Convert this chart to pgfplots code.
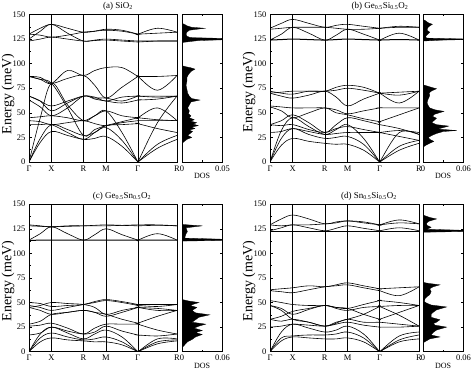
\documentclass[border=0pt]{standalone}
\usepackage{fontspec}
\setmainfont{Liberation Serif}
\usepackage{pgfplots}
\pgfplotsset{compat=1.18}
\pgfplotsset{
  base/.style={scale only axis, ymin=0, ymax=150, ytick={0,25,...,150},
    axis line style={line width=0.6pt},
    tick style={black, line width=0.5pt},
    major tick length=3pt, minor tick length=1.5pt,
    tick label style={font=\fontsize{8.5}{10}\selectfont},
    /pgf/number format/assume math mode=true},
  disp/.style={base, width=148pt, height=147.5pt, xmin=0, xmax=3.28,
    xtick={0,0.5,1.207,1.707,2.414,3.28}, xticklabels={Γ,X,R,M,Γ,R},
    xmajorgrids, major x grid style={black, line width=0.6pt},
    xtick style={draw=none},
    ytick pos=left, minor y tick num=1,
    unbounded coords=discard},
  band/.style={black, solid, line width=0.6pt, smooth, tension=0.6, mark=none},
  flat/.style={band, line width=1pt},
  dos/.style={base, height=147.5pt, xmin=0, yticklabels={}, ytick pos=right,
    xtick pos=both, minor x tick num=1, scaled x ticks=false},
  dosfill/.style={black, fill=black, line width=0.3pt, mark=none, sharp plot},
}
\begin{document}
\begin{tikzpicture}
\useasboundingbox (0,0) rectangle (474pt,372pt);
% ---------------- (a) SiO2 ----------------
\begin{axis}[disp, at={(29pt,210pt)}, anchor=south west]
\addplot[band] coordinates {(0,123)(.25,125)(.5,127)(.854,125)(1.207,123)(1.457,123.5)(1.707,124)(2.06,123)(2.414,122)(2.414,nan)(2.414,122)(2.847,123)(3.28,123)};
\addplot[band] coordinates {(0,125)(.25,133)(.5,140)(.854,131)(1.207,123)(1.457,124)(1.707,125)(2.06,124)(2.414,123)(2.414,nan)(2.414,123)(2.847,123)(3.28,123)};
\addplot[band] coordinates {(0,130)(.25,136)(.5,140)(.854,136)(1.207,132)(1.457,133)(1.707,135)(2.06,134)(2.414,130)(2.414,nan)(2.414,130)(2.847,136)(3.28,132)};
\addplot[band] coordinates {(0,130)(.25,129)(.5,127)(.854,129)(1.207,132)(1.457,133)(1.707,134)(2.06,133)(2.414,130)(2.414,nan)(2.414,130)(2.847,131)(3.28,132)};
\addplot[band] coordinates {(0,0)(.25,20)(.5,31)(.854,27)(1.207,23)(1.457,24)(1.707,26)(2.06,16)(2.414,0)(2.414,nan)(2.414,0)(2.847,14)(3.28,23)};
\addplot[band] coordinates {(0,0)(.25,24)(.5,38)(.854,33)(1.207,27)(1.457,30)(1.707,35)(2.06,22)(2.414,0)(2.414,nan)(2.414,0)(2.847,18)(3.28,27)};
\addplot[band] coordinates {(0,0)(.25,45)(.5,80)(.854,58)(1.207,42)(1.457,47)(1.707,52)(2.06,30)(2.414,0)(2.414,nan)(2.414,0)(2.847,40)(3.28,67)};
\addplot[band] coordinates {(0,38)(.25,38)(.5,38)(.854,30)(1.207,23)(1.457,30)(1.707,37)(2.06,38)(2.414,39)(2.414,nan)(2.414,39)(2.847,34)(3.28,30)};
\addplot[band] coordinates {(0,42)(.25,41)(.5,38)(.854,40)(1.207,42)(1.457,39)(1.707,37)(2.06,40)(2.414,42)(2.414,nan)(2.414,42)(2.847,42)(3.28,42)};
\addplot[band] coordinates {(0,45)(.25,46)(.5,47)(.854,45)(1.207,42)(1.457,47)(1.707,52)(2.06,47)(2.414,45)(2.414,nan)(2.414,45)(2.847,55)(3.28,42)};
\addplot[band] coordinates {(0,63)(.25,56)(.5,47)(.854,55)(1.207,67)(1.457,64)(1.707,62)(2.06,60)(2.414,63)(2.414,nan)(2.414,63)(2.847,64)(3.28,67)};
\addplot[band] coordinates {(0,67)(.25,62)(.5,52)(.854,60)(1.207,67)(1.457,65)(1.707,65)(2.06,62)(2.414,67)(2.414,nan)(2.414,67)(2.847,67)(3.28,67)};
\addplot[band] coordinates {(0,67)(.25,62)(.5,57)(.854,62)(1.207,67)(1.457,66)(1.707,62)(2.06,66)(2.414,67)(2.414,nan)(2.414,67)(2.847,66)(3.28,67)};
\addplot[band] coordinates {(0,87)(.25,84)(.5,80)(.854,55)(1.207,27)(1.457,33)(1.707,37)(2.06,41)(2.414,45)(2.414,nan)(2.414,45)(2.847,43)(3.28,42)};
\addplot[band] coordinates {(0,87)(.25,84)(.5,80)(.854,93)(1.207,88)(1.457,93)(1.707,96)(2.06,96)(2.414,87)(2.414,nan)(2.414,87)(2.847,73)(3.28,88)};
\addplot[band] coordinates {(0,87)(.25,86)(.5,80)(.854,85)(1.207,88)(1.457,78)(1.707,65)(2.06,76)(2.414,87)(2.414,nan)(2.414,87)(2.847,87)(3.28,88)};
\end{axis}
\begin{axis}[dos, at={(182pt,210pt)}, anchor=south west, width=40.5pt, xmax=0.05, xtick={0,0.05}, xticklabels={0,0.05}]
\addplot[dosfill] coordinates {(0,19)(0.003,21)(0.006,23)(0.012,25)(0.007,27)(0.01,29)(0.013,31)(0.009,32.5)(0.016,34)(0.012,35.5)(0.02,37)(0.014,38.5)(0.018,40)(0.011,41.5)(0.015,43)(0.009,45)(0.011,47)(0.008,49)(0.009,52)(0.007,55)(0.009,58)(0.011,61)(0.022,63)(0.012,64.5)(0.009,67)(0.007,70)(0.006,74)(0.005,78)(0.006,82)(0.006,86)(0.008,89)(0.011,92)(0.016,94.5)(0.01,96)(0.004,97)(0,98)};
\addplot[dosfill] coordinates {(0,121.5)(0.02,123.5)(0.06,124.5)(0.06,125.5)(0.01,126.5)(0.006,128)(0.005,130)(0.006,132)(0.009,134)(0.028,136)(0.012,137)(0.006,138.5)(0.003,140)(0,141)};
\end{axis}
% ---------------- (b) Ge0.5Si0.5O2 ----------------
\begin{axis}[disp, at={(270pt,210pt)}, anchor=south west, width=149pt]
\addplot[flat] coordinates {(0,124)(.25,124.5)(.5,125)(.854,124.5)(1.207,124)(1.457,124.5)(1.707,125)(2.06,124.5)(2.414,124)(2.414,nan)(2.414,124)(2.847,124.5)(3.28,124)};
\addplot[band] coordinates {(0,124)(.25,130)(.5,137)(.854,131)(1.207,124)(1.457,129)(1.707,135)(2.06,130)(2.414,124)(2.414,nan)(2.414,124)(2.847,131)(3.28,124)};
\addplot[band] coordinates {(0,136)(.25,141)(.5,145)(.854,141)(1.207,137)(1.457,139)(1.707,140)(2.06,138)(2.414,136)(2.414,nan)(2.414,136)(2.847,138)(3.28,137)};
\addplot[band] coordinates {(0,135)(.25,136)(.5,137)(.854,137)(1.207,137)(1.457,136)(1.707,135)(2.06,135)(2.414,136)(2.414,nan)(2.414,136)(2.847,137)(3.28,137)};
\addplot[band] coordinates {(0,0)(.25,17)(.5,24)(.854,21)(1.207,19)(1.457,18)(1.707,18)(2.06,12)(2.414,0)(2.414,nan)(2.414,0)(2.847,12)(3.28,19)};
\addplot[band] coordinates {(0,0)(.25,24)(.5,34)(.854,28)(1.207,24)(1.457,25)(1.707,26)(2.06,18)(2.414,0)(2.414,nan)(2.414,0)(2.847,16)(3.28,22)};
\addplot[band] coordinates {(0,0)(.25,32)(.5,45)(.854,36)(1.207,28)(1.457,33)(1.707,38)(2.06,24)(2.414,0)(2.414,nan)(2.414,0)(2.847,30)(3.28,28)};
\addplot[band] coordinates {(0,30)(.25,31)(.5,34)(.854,31)(1.207,28)(1.457,29)(1.707,30)(2.06,30)(2.414,30)(2.414,nan)(2.414,30)(2.847,26)(3.28,22)};
\addplot[band] coordinates {(0,38)(.25,37)(.5,38)(.854,33)(1.207,30)(1.457,34)(1.707,36)(2.06,33)(2.414,30)(2.414,nan)(2.414,30)(2.847,32)(3.28,30)};
\addplot[band] coordinates {(0,38)(.25,42)(.5,48)(.854,40)(1.207,30)(1.457,38)(1.707,45)(2.06,42)(2.414,38)(2.414,nan)(2.414,38)(2.847,34)(3.28,28)};
\addplot[band] coordinates {(0,56)(.25,52)(.5,45)(.854,50)(1.207,55)(1.457,50)(1.707,48)(2.06,44)(2.414,41)(2.414,nan)(2.414,41)(2.847,48)(3.28,55)};
\addplot[band] coordinates {(0,57)(.25,56)(.5,55)(.854,55)(1.207,55)(1.457,53)(1.707,49)(2.06,52)(2.414,55)(2.414,nan)(2.414,55)(2.847,55)(3.28,55)};
\addplot[band] coordinates {(0,70)(.25,67)(.5,65)(.854,68)(1.207,72)(1.457,66)(1.707,57)(2.06,64)(2.414,70)(2.414,nan)(2.414,70)(2.847,60)(3.28,72)};
\addplot[band] coordinates {(0,72)(.25,70)(.5,69)(.854,72)(1.207,72)(1.457,76)(1.707,78)(2.06,76)(2.414,70)(2.414,nan)(2.414,70)(2.847,71)(3.28,72)};
\addplot[band] coordinates {(0,70)(.25,71)(.5,72)(.854,72)(1.207,72)(1.457,73)(1.707,75)(2.06,73)(2.414,70)(2.414,nan)(2.414,70)(2.847,68)(3.28,72)};
\end{axis}
\begin{axis}[dos, at={(423pt,210pt)}, anchor=south west, width=40.5pt, xmax=0.06, xtick={0,0.06}, xticklabels={0,0.06}]
\addplot[dosfill] coordinates {(0,15)(0.004,17)(0.01,19)(0.016,21)(0.01,23)(0.008,25)(0.013,27)(0.02,29)(0.03,31)(0.05,32)(0.022,33.5)(0.03,35)(0.038,36.5)(0.02,38)(0.013,40)(0.016,42)(0.02,44.5)(0.014,46.5)(0.017,48.5)(0.031,51.5)(0.018,53)(0.01,55)(0.008,57)(0.006,60)(0.007,63)(0.009,66)(0.01,68)(0.009,70)(0.012,72)(0.02,74.5)(0.012,76)(0.005,77.5)(0,78.5)};
\addplot[dosfill] coordinates {(0,123)(0.03,124)(0.07,124.5)(0.07,125)(0.005,126)(0.004,128)(0.007,130)(0.01,132)(0.006,134)(0.007,136.5)(0.01,138.5)(0.014,140)(0.008,141.5)(0.004,143.5)(0,145)};
\end{axis}
% ---------------- (c) Ge0.5Sn0.5O2 ----------------
\begin{axis}[disp, at={(29pt,20.3pt)}, anchor=south west]
\addplot[flat] coordinates {(0,113)(.25,113.5)(.5,113.5)(.854,113.5)(1.207,113.5)(1.457,113.5)(1.707,113.5)(2.06,113.5)(2.414,113.5)(2.414,nan)(2.414,113.5)(2.847,113.5)(3.28,113.5)};
\addplot[band] coordinates {(0,113.5)(.25,120)(.5,127)(.854,120)(1.207,113.5)(1.457,119)(1.707,125)(2.06,119)(2.414,113.5)(2.414,nan)(2.414,113.5)(2.847,120)(3.28,113.5)};
\addplot[band] coordinates {(0,129)(.25,128)(.5,127)(.854,128)(1.207,128)(1.457,128)(1.707,128)(2.06,128.5)(2.414,129)(2.414,nan)(2.414,129)(2.847,129)(3.28,128)};
\addplot[band] coordinates {(0,128)(.25,127.5)(.5,127)(.854,127.5)(1.207,128)(1.457,128.5)(1.707,129)(2.06,128.5)(2.414,128)(2.414,nan)(2.414,128)(2.847,128.5)(3.28,128)};
\addplot[band] coordinates {(0,0)(.25,10)(.5,14)(.854,12)(1.207,11)(1.457,10)(1.707,10)(2.06,7)(2.414,0)(2.414,nan)(2.414,0)(2.847,8)(3.28,11)};
\addplot[band] coordinates {(0,0)(.25,14)(.5,19)(.854,15)(1.207,12)(1.457,13)(1.707,15)(2.06,10)(2.414,0)(2.414,nan)(2.414,0)(2.847,10)(3.28,12)};
\addplot[band] coordinates {(0,0)(.25,18)(.5,25)(.854,19)(1.207,13)(1.457,18)(1.707,22)(2.06,15)(2.414,0)(2.414,nan)(2.414,0)(2.847,13)(3.28,13)};
\addplot[band] coordinates {(0,17)(.25,19)(.5,25)(.854,21)(1.207,18)(1.457,20)(1.707,26)(2.06,21)(2.414,17)(2.414,nan)(2.414,17)(2.847,16)(3.28,18)};
\addplot[band] coordinates {(0,26)(.25,27)(.5,29)(.854,24)(1.207,18)(1.457,24)(1.707,28)(2.06,28)(2.414,28)(2.414,nan)(2.414,28)(2.847,22)(3.28,18)};
\addplot[band] coordinates {(0,28)(.25,31)(.5,38)(.854,40)(1.207,42)(1.457,40)(1.707,38)(2.06,33)(2.414,29)(2.414,nan)(2.414,29)(2.847,36)(3.28,42)};
\addplot[band] coordinates {(0,45)(.25,42)(.5,38)(.854,40)(1.207,42)(1.457,40)(1.707,36)(2.06,40)(2.414,45)(2.414,nan)(2.414,45)(2.847,44)(3.28,42)};
\addplot[band] coordinates {(0,47)(.25,45)(.5,42)(.854,45)(1.207,48)(1.457,50)(1.707,52)(2.06,50)(2.414,47)(2.414,nan)(2.414,47)(2.847,46)(3.28,48)};
\addplot[band] coordinates {(0,50)(.25,49)(.5,46)(.854,47)(1.207,48)(1.457,51)(1.707,53)(2.06,51)(2.414,48)(2.414,nan)(2.414,48)(2.847,48)(3.28,48)};
\addplot[band] coordinates {(0,45)(.25,47)(.5,50)(.854,49)(1.207,48)(1.457,45)(1.707,38)(2.06,42)(2.414,45)(2.414,nan)(2.414,45)(2.847,42)(3.28,42)};
\end{axis}
\begin{axis}[dos, at={(182pt,20.3pt)}, anchor=south west, width=40.5pt, xmax=0.06, xtick={0,0.06}, xticklabels={0,0.06}]
\addplot[dosfill] coordinates {(0,4)(0.004,7)(0.008,10)(0.015,12.5)(0.02,15)(0.03,17.5)(0.02,19.5)(0.03,21.5)(0.018,24)(0.025,26)(0.035,28)(0.015,30)(0.02,32.5)(0.025,35)(0.041,37.5)(0.02,39.5)(0.015,42)(0.022,45)(0.012,47)(0.018,48.5)(0.025,50)(0.01,51.5)(0.004,52.5)(0,53)};
\addplot[dosfill] coordinates {(0,112.5)(0.07,113.2)(0.07,114.2)(0.004,115.5)(0.005,118)(0.006,120)(0.008,122)(0.007,124)(0.006,126)(0.03,128)(0.012,128.8)(0,129.5)};
\end{axis}
% ---------------- (d) Sn0.5Si0.5O2 ----------------
\begin{axis}[disp, at={(270pt,20.3pt)}, anchor=south west, width=149pt]
\addplot[flat] coordinates {(0,122.5)(.25,122.5)(.5,122.5)(.854,122.5)(1.207,122.5)(1.457,122.5)(1.707,122.5)(2.06,122.5)(2.414,122.5)(2.414,nan)(2.414,122.5)(2.847,122.5)(3.28,122.5)};
\addplot[band] coordinates {(0,123)(.25,126)(.5,129)(.854,126)(1.207,123)(1.457,125.5)(1.707,128)(2.06,125.5)(2.414,123)(2.414,nan)(2.414,123)(2.847,126)(3.28,123)};
\addplot[band] coordinates {(0,129)(.25,135)(.5,139)(.854,135)(1.207,130)(1.457,132)(1.707,133)(2.06,132)(2.414,129)(2.414,nan)(2.414,129)(2.847,134)(3.28,130)};
\addplot[band] coordinates {(0,129)(.25,128)(.5,129)(.854,129)(1.207,130)(1.457,131)(1.707,133)(2.06,131)(2.414,129)(2.414,nan)(2.414,129)(2.847,131)(3.28,130)};
\addplot[band] coordinates {(0,0)(.25,11)(.5,15)(.854,14)(1.207,13)(1.457,13)(1.707,14)(2.06,10)(2.414,0)(2.414,nan)(2.414,0)(2.847,10)(3.28,13)};
\addplot[band] coordinates {(0,0)(.25,14)(.5,16)(.854,17)(1.207,17)(1.457,18)(1.707,20)(2.06,14)(2.414,0)(2.414,nan)(2.414,0)(2.847,12)(3.28,17)};
\addplot[band] coordinates {(0,0)(.25,20)(.5,28)(.854,24)(1.207,20)(1.457,22)(1.707,26)(2.06,18)(2.414,0)(2.414,nan)(2.414,0)(2.847,16)(3.28,20)};
\addplot[band] coordinates {(0,25)(.25,26)(.5,28)(.854,27)(1.207,26)(1.457,28)(1.707,30)(2.06,27)(2.414,25)(2.414,nan)(2.414,25)(2.847,25)(3.28,26)};
\addplot[band] coordinates {(0,33)(.25,31)(.5,33)(.854,30)(1.207,26)(1.457,29)(1.707,33)(2.06,30)(2.414,30)(2.414,nan)(2.414,30)(2.847,28)(3.28,26)};
\addplot[band] coordinates {(0,33)(.25,36)(.5,41)(.854,44)(1.207,47)(1.457,45)(1.707,44)(2.06,38)(2.414,33)(2.414,nan)(2.414,33)(2.847,40)(3.28,47)};
\addplot[band] coordinates {(0,47)(.25,44)(.5,38)(.854,43)(1.207,47)(1.457,44)(1.707,42)(2.06,45)(2.414,46)(2.414,nan)(2.414,46)(2.847,47)(3.28,47)};
\addplot[band] coordinates {(0,52)(.25,50)(.5,48)(.854,47)(1.207,47)(1.457,45)(1.707,44)(2.06,48)(2.414,52)(2.414,nan)(2.414,52)(2.847,50)(3.28,47)};
\addplot[band] coordinates {(0,47)(.25,42)(.5,33)(.854,30)(1.207,26)(1.457,30)(1.707,33)(2.06,38)(2.414,46)(2.414,nan)(2.414,46)(2.847,37)(3.28,26)};
\addplot[band] coordinates {(0,62)(.25,61)(.5,60)(.854,63)(1.207,66)(1.457,67)(1.707,68)(2.06,65)(2.414,62)(2.414,nan)(2.414,62)(2.847,57)(3.28,66)};
\addplot[band] coordinates {(0,63)(.25,64)(.5,65)(.854,67)(1.207,66)(1.457,68)(1.707,70)(2.06,67)(2.414,64)(2.414,nan)(2.414,64)(2.847,65)(3.28,66)};
\end{axis}
\begin{axis}[dos, at={(423pt,20.3pt)}, anchor=south west, width=40.5pt, xmax=0.06, xtick={0,0.06}, xticklabels={0,0.06}]
\addplot[dosfill] coordinates {(0,9)(0.005,11)(0.01,13)(0.025,15)(0.012,17)(0.015,19.5)(0.02,22)(0.035,25)(0.018,27)(0.015,28.5)(0.02,30)(0.025,32.5)(0.012,35)(0.012,38)(0.015,40)(0.02,42.5)(0.035,45.5)(0.012,47.5)(0.005,49.5)(0.002,51)(0.003,54)(0.006,56)(0.01,58)(0.012,61)(0.01,64)(0.015,66)(0.025,68)(0.008,69.5)(0,70.5)};
\addplot[dosfill] coordinates {(0,121.5)(0.07,122.3)(0.07,123.3)(0.006,124.5)(0.012,126.5)(0.006,128.5)(0.005,130.5)(0.008,132.5)(0.02,135)(0.01,136.5)(0.004,138)(0,139)};
\end{axis}
% ---------------- labels ----------------
\node[font=\fontsize{9}{11}\selectfont] at (118pt,366pt) {(a) SiO\textsubscript{2}};
\node[font=\fontsize{9}{11}\selectfont] at (380pt,366pt) {(b) Ge\textsubscript{0.5}Si\textsubscript{0.5}O\textsubscript{2}};
\node[font=\fontsize{9}{11}\selectfont] at (122pt,176pt) {(c) Ge\textsubscript{0.5}Sn\textsubscript{0.5}O\textsubscript{2}};
\node[font=\fontsize{9}{11}\selectfont] at (369pt,176pt) {(d) Sn\textsubscript{0.5}Si\textsubscript{0.5}O\textsubscript{2}};
\node[rotate=90, font=\fontsize{14}{16}\selectfont] at (8pt,278pt) {Energy (meV)};
\node[rotate=90, font=\fontsize{14}{16}\selectfont] at (249pt,280pt) {Energy (meV)};
\node[rotate=90, font=\fontsize{14}{16}\selectfont] at (8pt,91pt) {Energy (meV)};
\node[rotate=90, font=\fontsize{14}{16}\selectfont] at (249pt,91pt) {Energy (meV)};
\node[font=\fontsize{8}{10}\selectfont] at (202pt,196pt) {DOS};
\node[font=\fontsize{8}{10}\selectfont] at (443pt,196pt) {DOS};
\node[font=\fontsize{8}{10}\selectfont] at (202pt,6pt) {DOS};
\node[font=\fontsize{8}{10}\selectfont] at (443pt,6pt) {DOS};
\end{tikzpicture}
\end{document}
